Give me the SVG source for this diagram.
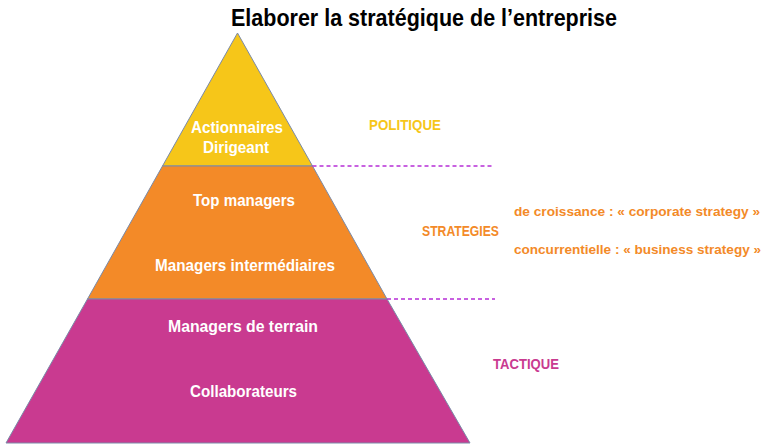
<svg xmlns="http://www.w3.org/2000/svg" width="768" height="448" viewBox="0 0 768 448">
<style>
text{font-family:"Liberation Sans",Arial,sans-serif;font-weight:bold}
.w{fill:#ffffff;font-size:16px}
.tier{stroke:#7a8aa8;stroke-width:1}
.dash{stroke:#b62ed6;stroke-width:1.4;stroke-dasharray:4 3;fill:none}
</style>
<rect width="768" height="448" fill="#ffffff"/>
<text x="424" y="26" font-size="24" fill="#000000" text-anchor="middle" textLength="386" lengthAdjust="spacingAndGlyphs">Elaborer la stratégique de l’entreprise</text>
<g id="tier-top">
<polygon class="tier" points="237.5,33 162.5,166 312.5,166" fill="#f6c619"/>
<text class="w" x="237" y="133" text-anchor="middle" textLength="92" lengthAdjust="spacingAndGlyphs">Actionnaires</text>
<text class="w" x="236" y="153" text-anchor="middle" textLength="66" lengthAdjust="spacingAndGlyphs">Dirigeant</text>
</g>
<g id="tier-middle">
<polygon class="tier" points="162.5,166 312.5,166 387,299 87.5,299" fill="#f38a28"/>
<text class="w" x="244" y="206" text-anchor="middle" textLength="102" lengthAdjust="spacingAndGlyphs">Top managers</text>
<text class="w" x="245" y="271" text-anchor="middle" textLength="180" lengthAdjust="spacingAndGlyphs">Managers intermédiaires</text>
</g>
<g id="tier-bottom">
<polygon class="tier" points="87.5,299 387,299 470,443 6,443" fill="#c93a90"/>
<text class="w" x="243" y="332" text-anchor="middle" textLength="150" lengthAdjust="spacingAndGlyphs">Managers de terrain</text>
<text class="w" x="243.5" y="397" text-anchor="middle" textLength="107" lengthAdjust="spacingAndGlyphs">Collaborateurs</text>
</g>
<g id="connectors">
<line class="dash" x1="312.5" y1="166" x2="493" y2="166"/>
<line class="dash" x1="387" y1="299" x2="495" y2="299"/>
</g>
<g id="label-politique">
<text x="369" y="130" font-size="15" fill="#f6c619" textLength="72" lengthAdjust="spacingAndGlyphs">POLITIQUE</text>
</g>
<g id="label-strategies">
<text x="422" y="236" font-size="15" fill="#f38a28" textLength="77" lengthAdjust="spacingAndGlyphs">STRATEGIES</text>
<text x="514" y="216" font-size="13.5" fill="#f38a28" textLength="246" lengthAdjust="spacingAndGlyphs">de croissance : « corporate strategy »</text>
<text x="514" y="254" font-size="13.5" fill="#f38a28" textLength="247" lengthAdjust="spacingAndGlyphs">concurrentielle : « business strategy »</text>
</g>
<g id="label-tactique">
<text x="493" y="369" font-size="15" fill="#c93a90" textLength="66" lengthAdjust="spacingAndGlyphs">TACTIQUE</text>
</g>
</svg>
